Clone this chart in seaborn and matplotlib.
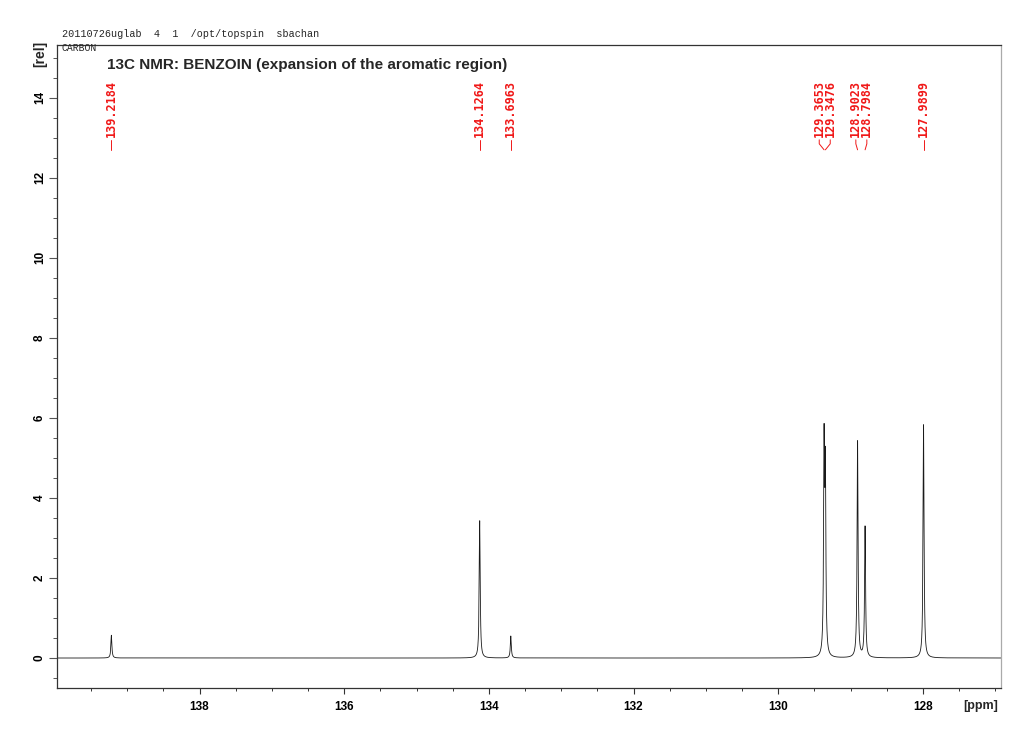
"""
Recreate a 13C NMR spectrum of benzoin (aromatic region expansion)
as a seaborn line plot with the peak-picking labels on top.
"""

import matplotlib.pyplot as plt
import matplotlib.ticker as mticker
import numpy as np
import pandas as pd
import seaborn as sns

# peak list (ppm, line amplitude in [rel])
PEAK_PPM = [139.2184, 134.1264, 133.6963, 129.3653, 129.3476, 128.9023, 128.7984, 127.9899]
PEAK_HEIGHT = [0.57, 3.43, 0.55, 5.10, 4.40, 5.41, 3.27, 5.83]
PEAK_HWHM = 0.008  # ppm, lorentzian half width

PPM_LEFT = 139.97
PPM_RIGHT = 126.92
REL_BOTTOM = -0.75
REL_TOP = 15.32

HEADER_TEXT = "20110726uglab  4  1  /opt/topspin  sbachan"
SAMPLE_TEXT = "CARBON"
TITLE_TEXT = "13C NMR: BENZOIN (expansion of the aromatic region)"

LABEL_GAP = 0.152  # minimum ppm distance between two peak labels
LABEL_RED = "#f01818"
SANS = ["Liberation Sans", "DejaVu Sans"]
MONO = ["Liberation Mono", "DejaVu Sans Mono"]
LABEL_FONT = ["DejaVu Sans Mono"]


def build_spectrum() -> pd.DataFrame:
    """Sum of lorentzian lines from the peak list."""
    ppm = np.linspace(PPM_RIGHT, PPM_LEFT, 40000)
    rel = np.zeros_like(ppm)
    for center, height in zip(PEAK_PPM, PEAK_HEIGHT):
        rel += height * PEAK_HWHM**2 / ((ppm - center) ** 2 + PEAK_HWHM**2)
    return pd.DataFrame({"ppm": ppm, "rel": rel})


def spread_labels(positions: list[float], gap: float) -> list[float]:
    """Push label positions apart so that no two are closer than gap."""
    order = sorted(range(len(positions)), key=lambda i: -positions[i])
    groups = [[positions[i]] for i in order]
    centers = [g[0] for g in groups]
    changed = True
    while changed:
        changed = False
        for k in range(len(groups) - 1):
            low_edge = centers[k] - gap * (len(groups[k]) - 1) / 2
            high_edge = centers[k + 1] + gap * (len(groups[k + 1]) - 1) / 2
            if low_edge - high_edge < gap - 1e-9:
                merged = groups[k] + groups[k + 1]
                groups[k:k + 2] = [merged]
                centers[k:k + 2] = [sum(merged) / len(merged)]
                changed = True
                break
    placed = []
    for group, center in zip(groups, centers):
        n = len(group)
        placed += [center + gap * ((n - 1) / 2 - j) for j in range(n)]
    result = [0.0] * len(positions)
    for idx, value in zip(order, placed):
        result[idx] = value
    return result


def create_nmr_plot() -> None:
    sns.set_style("ticks")
    plt.rcParams["font.family"] = SANS

    spectrum = build_spectrum()

    fig = plt.figure(figsize=(10.24, 7.30), dpi=100)
    ax = fig.add_axes([0.0557, 0.0575, 0.9218, 0.8809])

    sns.lineplot(
        data=spectrum,
        x="ppm",
        y="rel",
        ax=ax,
        color="#1a1a1a",
        linewidth=0.6,
        estimator=None,
        sort=False,
    )

    ax.set_xlim(PPM_LEFT, PPM_RIGHT)
    ax.set_ylim(REL_BOTTOM, REL_TOP)
    ax.set_xlabel("")
    ax.set_ylabel("")

    ax.xaxis.set_major_locator(mticker.MultipleLocator(2))
    ax.xaxis.set_minor_locator(mticker.MultipleLocator(0.5))
    ax.yaxis.set_major_locator(mticker.MultipleLocator(2))
    ax.yaxis.set_minor_locator(mticker.MultipleLocator(0.5))

    ax.tick_params(axis="x", which="major", length=4, width=0.8, pad=5,
                   labelsize=8.5, colors="#333333", labelcolor="black")
    ax.tick_params(axis="x", which="minor", length=2.5, width=0.7, colors="#333333")
    ax.tick_params(axis="y", which="major", length=6, width=0.8, pad=2,
                   labelsize=8.5, labelrotation=90, colors="#555555",
                   labelcolor="black")
    ax.tick_params(axis="y", which="minor", length=3, width=0.7, colors="#555555")
    for label in ax.get_xticklabels() + ax.get_yticklabels():
        label.set_fontweight("bold")
    for label in ax.get_yticklabels():
        label.set_verticalalignment("center")

    for side in ["left", "bottom", "top"]:
        ax.spines[side].set_color("#333333")
        ax.spines[side].set_linewidth(0.9)
    ax.spines["right"].set_color("#aaaaaa")
    ax.spines["right"].set_linewidth(0.9)

    # peak picking labels
    label_ppm = spread_labels(PEAK_PPM, LABEL_GAP)
    for peak, lab in zip(PEAK_PPM, label_ppm):
        ax.text(lab, 13.02, f"{peak:.4f}", rotation=90, ha="center", va="bottom",
                color=LABEL_RED, fontsize=8.6, fontweight="bold", family=LABEL_FONT)
        ax.plot([lab, lab, peak], [12.95, 12.85, 12.7],
                color=LABEL_RED, linewidth=0.7)

    fig.text(0.0605, 0.9495, HEADER_TEXT, family=MONO, fontsize=7.3,
             ha="left", va="baseline")
    fig.text(0.0605, 0.9295, SAMPLE_TEXT, family=MONO, fontsize=7,
             ha="left", va="baseline")
    fig.text(0.1045, 0.906, TITLE_TEXT, fontsize=11, fontweight="bold",
             ha="left", va="baseline")
    fig.text(0.039, 0.926, "[rel]", rotation=90, fontsize=10, fontweight="bold",
             ha="center", va="center")
    fig.text(0.958, 0.033, "[ppm]", fontsize=9, fontweight="bold",
             ha="center", va="center")

    fig.savefig("out.png", dpi=100, facecolor="white")


if __name__ == "__main__":
    create_nmr_plot()
